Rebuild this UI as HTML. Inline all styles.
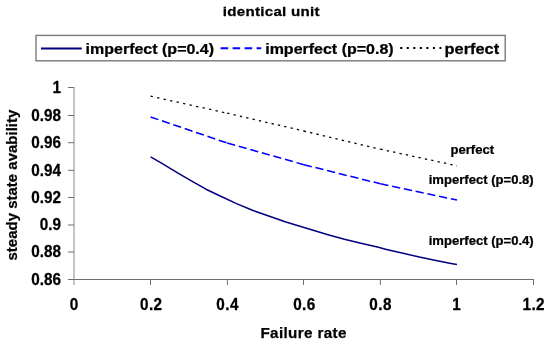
<!DOCTYPE html>
<html><head><meta charset="utf-8"><title>identical unit</title>
<style>
html,body{margin:0;padding:0;background:#fff;}
svg{display:block;}
text{font-family:"Liberation Sans",sans-serif;font-weight:bold;fill:#000;stroke:#000;stroke-width:0.25px;stroke-linejoin:round;}
</style></head>
<body>
<svg width="550" height="346" viewBox="0 0 550 346">
<rect width="550" height="346" fill="#fff"/>
<!-- title -->
<text transform="translate(271.3 16.3) scale(1.145 1)" font-size="13.2" text-anchor="middle" letter-spacing="0.25">identical unit</text>
<!-- legend -->
<rect x="36" y="35.4" width="469.2" height="25.4" fill="#fff" stroke="#7a7a7a" stroke-width="1.4"/>
<line x1="41" y1="48.5" x2="81.8" y2="48.5" stroke="#000080" stroke-width="1.9"/>
<text transform="translate(85.6 53.5) scale(1.081 1)" font-size="14.8">imperfect (p=0.4)</text>
<line x1="220.6" y1="48.2" x2="261.2" y2="48.2" stroke="#0000ff" stroke-width="1.9" stroke-dasharray="7.6 4.4"/>
<text transform="translate(265.2 53.5) scale(1.081 1)" font-size="14.8">imperfect (p=0.8)</text>
<line x1="400.2" y1="48" x2="441.4" y2="48" stroke="#000" stroke-width="1.8" stroke-dasharray="2.1 4.44"/>
<text transform="translate(444.6 53.5) scale(1.105 1)" font-size="14.8">perfect</text>
<!-- axes -->
<g stroke="#6e6e6e" stroke-width="1" fill="none">
<line x1="74" y1="87" x2="74" y2="285" stroke="#8c8c8c"/>
<line x1="68" y1="279.5" x2="534" y2="279.5"/>
<path d="M68 87.5H74M68 115.5H74M68 142.7H74M68 170.3H74M68 197.5H74M68 225H74M68 252H74"/>
<path d="M150.5 280V285M227.4 280V285M303.5 280V285M380.4 280V285M456.5 280V285M533.5 279V285"/>
</g>
<!-- y labels -->
<g font-size="15.3" text-anchor="end">
<text transform="translate(60.9 92.9) scale(1 1.025)">1</text>
<text transform="translate(60.9 120.9) scale(1 1.025)">0.98</text>
<text transform="translate(60.9 148.1) scale(1 1.025)">0.96</text>
<text transform="translate(60.9 175.7) scale(1 1.025)">0.94</text>
<text transform="translate(60.9 202.9) scale(1 1.025)">0.92</text>
<text transform="translate(60.9 230.4) scale(1 1.025)">0.9</text>
<text transform="translate(60.9 257.4) scale(1 1.025)">0.88</text>
<text transform="translate(60.9 284.9) scale(1 1.025)">0.86</text>
</g>
<!-- x labels -->
<g font-size="15.3" text-anchor="middle" letter-spacing="0.4">
<text transform="translate(74.2 310.2) scale(1 1.025)">0</text>
<text transform="translate(151.3 310.2) scale(1 1.025)">0.2</text>
<text transform="translate(227.6 310.2) scale(1 1.025)">0.4</text>
<text transform="translate(304.4 310.2) scale(1 1.025)">0.6</text>
<text transform="translate(380.6 310.2) scale(1 1.025)">0.8</text>
<text transform="translate(456.6 310.2) scale(1 1.025)">1</text>
<text transform="translate(533.8 310.2) scale(1 1.025)">1.2</text>
</g>
<text x="303.6" y="338.3" font-size="15.2" text-anchor="middle" letter-spacing="0.36">Failure rate</text>
<text transform="translate(17 185.1) rotate(-90) scale(0.975 1)" font-size="15.4" text-anchor="middle">steady state avability</text>
<!-- series -->
<g stroke="#000" stroke-width="1.3" stroke-dasharray="2.3 4.2" fill="none">
<line x1="150.6" y1="96.2" x2="227.2" y2="113.2" stroke-dasharray="2.3 4.35"/>
<line x1="227.2" y1="113.2" x2="303.8" y2="131"/>
<line x1="303.8" y1="131" x2="380.4" y2="149.2"/>
<line x1="380.4" y1="149.2" x2="457" y2="165.8"/>
</g>
<g stroke="#0000ff" stroke-width="1.55" stroke-dasharray="8.2 3.8" fill="none">
<line x1="150.6" y1="117" x2="227.2" y2="143"/>
<line x1="227.2" y1="143" x2="303.8" y2="164.7"/>
<line x1="303.8" y1="164.7" x2="380.4" y2="183.8"/>
<line x1="380.4" y1="183.8" x2="457" y2="200.1"/>
</g>
<path d="M150.6 156.8L161.5 163.2L178 173.1L194.4 182.6L206 189.2L219.1 195.5L236.5 203.6L253 210.5L269.4 216.2L285.9 222L302.4 227L311.5 229.8L328 234.7L344.4 239.3L360.9 243.3L377.4 247.1L386.5 249.4L403 253.3L419.4 257.1L435.9 260.4L452.4 263.7L457 264.6" stroke="#000080" stroke-width="1.5" fill="none" stroke-linejoin="round"/>
<!-- data labels -->
<g font-size="12.3">
<text transform="translate(450.5 154.1) scale(1.063 1)">perfect</text>
<text transform="translate(428.7 183.9) scale(1.063 1)">imperfect (p=0.8)</text>
<text transform="translate(428.7 244.7) scale(1.063 1)">imperfect (p=0.4)</text>
</g>
</svg>
</body></html>
